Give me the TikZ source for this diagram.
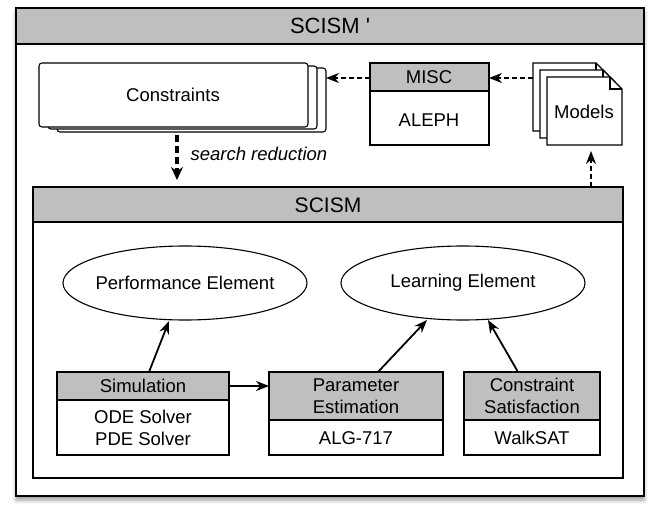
\documentclass[tikz,border=0pt]{standalone}
\usepackage{fontspec}
\setmainfont{Liberation Sans}
\usetikzlibrary{arrows.meta,shadows.blur}
\definecolor{hdr}{gray}{0.75}
\begin{document}
\begin{tikzpicture}[x=1pt,y=-1pt,
  box/.style={draw,line width=1.1pt,fill=white},
  hbox/.style={draw,line width=1.1pt,fill=hdr},
  lbl/.style={font=\fontsize{18.5}{21}\selectfont,align=center},
  arr/.style={-{Stealth[length=13pt,width=10pt]},line width=1.8pt},
  darr/.style={-{Stealth[length=13pt,width=10pt]},line width=1.6pt,dash pattern=on 5pt off 3pt},
  doc/.style={draw,line width=1.1pt,fill=white}]
\useasboundingbox (0,0) rectangle (659,519);
% outer
\draw[line width=1.1pt,fill=white,blur shadow={shadow xshift=0pt,shadow yshift=-4pt,shadow blur radius=4pt}] (16,8) rectangle (644,496);
\draw[hbox] (16,8) rectangle (644,44);
\node[font=\fontsize{22}{24}\selectfont] (t1) at (330,26) {SCISM \textquotesingle};
% constraints stack
\draw[box,rounded corners=3pt] (57,68) rectangle (326,132);
\draw[box,rounded corners=3pt] (48,66) rectangle (317,129);
\draw[box,rounded corners=3pt] (39,63) rectangle (308,127);
\node[lbl] (con) at (173,95) {Constraints};
\coordinate (conR) at (326,78);
% MISC
\draw[box] (370,63) rectangle (489,145);
\draw[hbox] (370,63) rectangle (489,91);
\node[lbl] (misc) at (429,77) {MISC};
\node[lbl] (aleph) at (429,120) {ALEPH};
\coordinate (miscL) at (370,78);
\coordinate (miscR) at (489,78);
% Models
\foreach \dx/\dy in {0/0,7/7,14/14}{
 \draw[doc] (533+\dx,63+\dy) -- (596+\dx,63+\dy) -- (608+\dx,75+\dy) -- (608+\dx,131+\dy) -- (533+\dx,131+\dy) -- cycle;
 \draw[line width=1.1pt] (596+\dx,63+\dy) -- (596+\dx,75+\dy) -- (608+\dx,75+\dy);
}
\node[lbl] (models) at (584,112) {Models};
\coordinate (modL) at (533,78);
\coordinate (modB) at (591,151);
\draw[darr] (miscL) -- (conR);
\draw[darr] (modL) -- (miscR);
% SCISM inner
\draw[box] (33,187) rectangle (623,478);
\draw[hbox] (33,187) rectangle (623,222);
\node[font=\fontsize{21}{23}\selectfont] (t2) at (328,205) {SCISM};
\coordinate (scT) at (591,187);
\draw[darr] (scT) -- (modB);
\coordinate (srA) at (177,135);
\coordinate (srB) at (177,180);
\draw[line width=3.5pt,dash pattern=on 7pt off 4pt,-{Stealth[length=13pt,width=12pt]}] (srA) -- (srB);
\node[font=\itshape\fontsize{18.5}{21}\selectfont,anchor=west] (sr) at (187,154) {search reduction};
% ellipses
\draw[line width=1.1pt] (185,283) ellipse (122 and 37);
\node[lbl] (pe) at (185,283) {Performance Element};
\draw[line width=1.1pt] (463,283) ellipse (122 and 37);
\node[lbl] (le) at (463,283) {Learning Element};
% lower boxes
\draw[box] (57,372) rectangle (229,455); \draw[hbox] (57,372) rectangle (229,400);
\node[lbl] (sim) at (143,386) {Simulation};
\node[lbl,font=\fontsize{18.5}{22}\selectfont] (ode) at (143,428) {ODE Solver\\PDE Solver};
\draw[box] (269,372) rectangle (443,455); \draw[hbox] (269,372) rectangle (443,420);
\node[lbl,font=\fontsize{18.5}{22}\selectfont] (pe2) at (356,396) {Parameter\\Estimation};
\node[lbl] (alg) at (356,438) {ALG-717};
\draw[box] (464,372) rectangle (600,455); \draw[hbox] (464,372) rectangle (600,420);
\node[lbl,font=\fontsize{18.5}{22}\selectfont] (cs) at (532,396) {Constraint\\Satisfaction};
\node[lbl] (ws) at (532,438) {WalkSAT};
\coordinate (a1) at (149,372); \coordinate (b1) at (169,321);
\coordinate (a2) at (378,372); \coordinate (b2) at (427,320);
\coordinate (a3) at (518,372); \coordinate (b3) at (488,320);
\coordinate (a4) at (229,386); \coordinate (b4) at (269,386);
\draw[arr] (a1) -- (b1);
\draw[arr] (a2) -- (b2);
\draw[arr] (a3) -- (b3);
\draw[arr] (a4) -- (b4);
\end{tikzpicture}
\end{document}
